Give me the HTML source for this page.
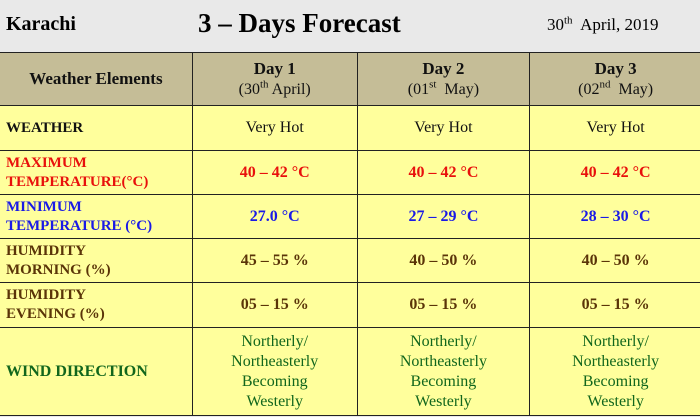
<!DOCTYPE html>
<html><head><meta charset="utf-8"><style>
body{margin:0;width:700px;height:417px;background:#e9e9e9;font-family:"Liberation Serif",serif;position:relative;overflow:hidden}
.t{position:absolute;white-space:nowrap}
table{position:absolute;left:-1px;top:52px;border-collapse:collapse;width:703px}
td{border:1.5px solid #222;padding:0;text-align:center;background:#ffff9c;font-size:16px;color:#111}
td.l{text-align:left;padding-left:6px;font-weight:bold;font-size:15px}
tr.h td{background:#c5bd97;font-size:16px;line-height:20px}
.b{font-weight:bold}
.r{color:#e8100c}.bl{color:#1a1ae6}.br{color:#5a3408}.g{color:#11661c}
sup{font-size:11px;line-height:0}
</style></head><body>
<div class="t b" style="left:6px;top:13px;font-size:20px">Karachi</div>
<div class="t b" style="left:198px;top:8px;font-size:27px">3 – Days Forecast</div>
<div class="t" style="left:547px;top:15px;font-size:17px">30<sup>th</sup>&nbsp; April, 2019</div>
<table>
<colgroup><col style="width:193px"><col style="width:165px"><col style="width:173px"><col style="width:172px"></colgroup>
<tr class="h" style="height:53px"><td class="b" style="font-size:17px">Weather Elements</td>
<td><span class="b" style="font-size:17px">Day 1</span><br>(30<sup>th</sup> April)</td>
<td><span class="b" style="font-size:17px">Day 2</span><br>(01<sup>st</sup>&nbsp; May)</td>
<td><span class="b" style="font-size:17px">Day 3</span><br>(02<sup>nd</sup>&nbsp; May)</td></tr>
<tr style="height:45px"><td class="l">WEATHER</td><td>Very Hot</td><td>Very Hot</td><td>Very Hot</td></tr>
<tr style="height:44px"><td class="l r" style="line-height:19px">MAXIMUM<br>TEMPERATURE(°C)</td><td class="b r">40 – 42 °C</td><td class="b r">40 – 42 °C</td><td class="b r">40 – 42 °C</td></tr>
<tr style="height:44px"><td class="l bl" style="line-height:19px">MINIMUM<br>TEMPERATURE (°C)</td><td class="b bl">27.0 °C</td><td class="b bl">27 – 29 °C</td><td class="b bl">28 – 30 °C</td></tr>
<tr style="height:44px"><td class="l br" style="line-height:19px">HUMIDITY<br>MORNING (%)</td><td class="b br">45 – 55 %</td><td class="b br">40 – 50 %</td><td class="b br">40 – 50 %</td></tr>
<tr style="height:45px"><td class="l br" style="line-height:19px">HUMIDITY<br>EVENING (%)</td><td class="b br">05 – 15 %</td><td class="b br">05 – 15 %</td><td class="b br">05 – 15 %</td></tr>
<tr style="height:88px"><td class="l g" style="font-size:16px">WIND DIRECTION</td>
<td class="g" style="line-height:20px">Northerly/<br>Northeasterly<br>Becoming<br>Westerly</td>
<td class="g" style="line-height:20px">Northerly/<br>Northeasterly<br>Becoming<br>Westerly</td>
<td class="g" style="line-height:20px">Northerly/<br>Northeasterly<br>Becoming<br>Westerly</td></tr>
</table>
</body></html>
